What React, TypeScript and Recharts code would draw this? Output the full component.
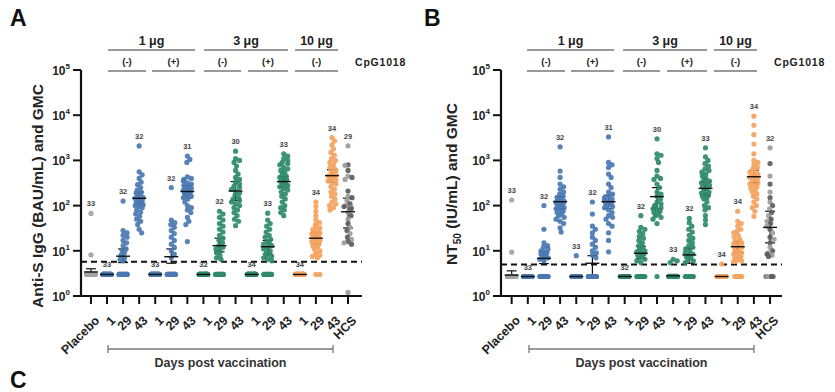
import React from "react";
import { ScatterChart, Scatter, XAxis, YAxis, ReferenceLine, ErrorBar } from "recharts";

const rep = (v: number, n: number) => Array.from({ length: n }, () => v);

// x categories (same for both panels)
const xLabels = ["Placebo", "1", "29", "43", "1", "29", "43", "1", "29", "43", "1", "29", "43", "1", "29", "43", "HCS"];
const groupColors = [
  "#a3a3a3",
  "#4a78b2", "#4a78b2", "#4a78b2", "#4a78b2", "#4a78b2", "#4a78b2",
  "#2e8a68", "#2e8a68", "#2e8a68", "#2e8a68", "#2e8a68", "#2e8a68",
  "#f4a35e", "#f4a35e", "#f4a35e",
  "#858585",
];
const hcsShades = ["#9c9c9c", "#5c5c5c"];

// Panel A: anti-S IgG (BAU/mL)
const aPlacebo = [67, 8.1, ...rep(3, 31)];
const a1nD1 = rep(3, 33);
const a1nD29 = [126, 28, 25, 22, 20, 17, 15, 13, 11, 10, 9, 8, 7, 6.5, 6, ...rep(3, 17)];
const a1nD43 = [2090, 560, 480, 400, 330, 290, 250, 220, 200, 190, 175, 160, 150, 145, 140, 130, 120, 115, 110, 105, 100, 95, 90, 80, 72, 65, 58, 50, 45, 38, 30, 25];
const a1pD1 = rep(3, 33);
const a1pD29 = [250, 48, 42, 38, 33, 28, 24, 20, 17, 14, 12, 10, 8.5, 7, ...rep(3, 18)];
const a1pD43 = [1250, 1050, 900, 430, 400, 380, 350, 320, 300, 280, 260, 250, 240, 220, 210, 200, 190, 180, 170, 160, 150, 140, 120, 100, 90, 80, 70, 55, 45, 38, 16];
const a3nD1 = rep(3, 32);
const a3nD29 = [75, 65, 55, 48, 40, 35, 30, 26, 22, 19, 17, 15, 13, 12, 11, 10, 9, 8, 7, 6.5, ...rep(3, 12)];
const a3nD43 = [1600, 1100, 1000, 900, 750, 600, 500, 420, 380, 330, 300, 270, 250, 230, 210, 190, 170, 150, 140, 130, 120, 110, 100, 90, 80, 70, 60, 50, 45, 36];
const a3pD1 = rep(3, 34);
const a3pD29 = [68, 48, 40, 35, 30, 26, 22, 20, 18, 16, 15, 14, 13, 12, 11, 10, 9, 8.5, 8, 7.5, 7, 6.5, 6, ...rep(3, 10)];
const a3pD43 = [1400, 1250, 1100, 1000, 900, 850, 800, 700, 650, 600, 550, 500, 450, 420, 400, 370, 340, 320, 300, 280, 260, 240, 220, 200, 180, 160, 140, 120, 100, 90, 80, 70, 60];
const a10D1 = rep(3, 34);
const a10D29 = [120, 95, 75, 60, 48, 42, 38, 35, 32, 30, 28, 26, 25, 24, 22, 21, 20, 19, 18, 17, 16, 15, 14, 13, 12, 11, 10, 9, 8.5, 8, 7.5, 7, 3, 3];
const a10D43 = [3200, 2700, 2200, 1800, 1500, 1300, 1100, 1000, 900, 800, 700, 650, 600, 560, 520, 480, 450, 420, 400, 380, 350, 320, 300, 260, 230, 200, 180, 160, 140, 120, 110, 100, 90, 80];
const aHcs = [2100, 800, 780, 600, 450, 420, 380, 210, 160, 150, 130, 110, 100, 95, 90, 85, 70, 60, 50, 40, 33, 28, 24, 20, 18, 16, 15, 14, 1.2];
// GMC with 95% CI: [gmc, low, high]
const aGmc = [
  [3.4, 3.0, 4.0], [3, 3, 3], [7.6, 5.5, 11], [145, 108, 200],
  [3, 3, 3], [7.4, 5.3, 11], [205, 150, 275],
  [3, 3, 3], [13, 9.5, 19], [210, 130, 340],
  [3, 3, 3], [12.3, 8.5, 17], [340, 260, 440],
  [3, 3, 3], [19, 14, 25], [460, 330, 620],
  [73, 32, 146],
];
const aLloq = 5.7;

// Panel B: NT50 (IU/mL)
const bPlacebo = [133, 9.3, ...rep(2.7, 31)];
const b1nD1 = rep(2.7, 33);
const b1nD29 = [100, 30, 15, 13, 12, 11, 10, 9.5, 9, 8.5, 8, 7.5, 7, 6.5, 6, ...rep(2.7, 17)];
const b1nD43 = [2000, 580, 420, 300, 260, 230, 200, 180, 160, 150, 140, 130, 125, 120, 115, 110, 105, 100, 95, 90, 85, 80, 75, 70, 65, 60, 55, 50, 45, 40, 32, 26];
const b1pD1 = [7.8, ...rep(2.7, 32)];
const b1pD29 = [120, 65, 35, 30, 25, 20, 17, 14, 12, 10, 9, 8, 7, ...rep(2.7, 19)];
const b1pD43 = [3300, 900, 800, 700, 500, 420, 300, 250, 200, 180, 160, 150, 140, 130, 125, 120, 115, 110, 100, 95, 90, 80, 70, 60, 55, 50, 40, 35, 25, 17, 9.5];
const b3nD1 = rep(2.7, 32);
const b3nD29 = [60, 33, 30, 27, 24, 21, 19, 17, 15, 13, 12, 11, 10, 9.5, 9, 8.5, 8, 7.5, 7, 6.5, 6, 5.5, ...rep(2.7, 10)];
const b3nD43 = [3000, 1400, 1300, 1100, 900, 600, 450, 400, 380, 300, 250, 200, 180, 160, 140, 120, 110, 100, 95, 90, 85, 80, 75, 70, 65, 60, 55, 50, 40, 2.7];
const b3pD1 = [6.5, 6, 5.5, ...rep(2.7, 30)];
const b3pD29 = [52, 42, 35, 30, 26, 22, 19, 17, 15, 13, 12, 11, 10, 9, 8.5, 8, 7.5, 7, 6.5, 6, 5.5, ...rep(2.7, 11)];
const b3pD43 = [1900, 1200, 1000, 850, 750, 650, 600, 550, 500, 450, 400, 380, 350, 320, 300, 280, 260, 240, 220, 200, 190, 180, 170, 160, 150, 140, 120, 100, 90, 80, 60, 48, 38];
const b10D1 = [5.1, ...rep(2.7, 33)];
const b10D29 = [75, 45, 40, 35, 30, 27, 25, 22, 20, 18, 17, 16, 15, 14, 13, 12, 11, 10, 9.5, 9, 8.5, 8, 7.5, 7, 6.5, 6, 6, 5.8, ...rep(2.7, 6)];
const b10D43 = [9500, 6000, 3700, 2300, 1400, 1000, 900, 800, 700, 650, 600, 550, 500, 480, 450, 420, 400, 380, 350, 320, 300, 280, 260, 240, 220, 200, 180, 160, 140, 120, 100, 90, 75, 58];
const bHcs = [1900, 850, 450, 300, 200, 150, 120, 100, 85, 70, 60, 50, 45, 40, 35, 30, 25, 20, 18, 15, 12, 10, 9, 8.5, 8, 7.5, ...rep(2.7, 6)];
const bGmc = [
  [2.9, 2.6, 3.6], [2.7, 2.7, 2.7], [6.8, 5.2, 9.5], [122, 85, 160],
  [2.7, 2.7, 2.7], [5.3, 2.9, 7.8], [122, 85, 170],
  [2.7, 2.7, 2.7], [8.8, 6.7, 12.5], [158, 85, 250],
  [2.8, 2.7, 3.0], [8.1, 5.3, 11.5], [240, 170, 330],
  [2.7, 2.7, 2.7], [12.3, 9.3, 16], [435, 320, 600],
  [33, 15, 75],
];
const bLloq = 5.0;

const aGroups = [aPlacebo, a1nD1, a1nD29, a1nD43, a1pD1, a1pD29, a1pD43, a3nD1, a3nD29, a3nD43, a3pD1, a3pD29, a3pD43, a10D1, a10D29, a10D43, aHcs];
const bGroups = [bPlacebo, b1nD1, b1nD29, b1nD43, b1pD1, b1pD29, b1pD43, b3nD1, b3nD29, b3nD43, b3pD1, b3pD29, b3pD43, b10D1, b10D29, b10D43, bHcs];

const PX_DECADE = 45.2;
const PX_UNIT = 16.1;
const R = 2.6;
const FONT = "'Liberation Sans', Arial, sans-serif";

// beeswarm offsets (x units) so dots don't pile on each other
function swarm(values: number[]) {
  const py = values.map((v) => -PX_DECADE * Math.log10(v));
  const order = values.map((_, i) => i).sort((a, b) => py[a] - py[b]);
  const placed: { x: number; y: number }[] = [];
  const offs = new Array(values.length).fill(0);
  const d = R * 1.6;
  const cyc = [0, 3, -3, 1.5, -1.5, 4, -4];
  order.forEach((i, k) => {
    let best: number | null = null;
    for (let s = 0; s <= 4 && best === null; s += 0.5) {
      for (const o of s === 0 ? [0] : [s, -s]) {
        if (placed.every((q) => (q.x - o) ** 2 + (q.y - py[i]) ** 2 >= d * d)) {
          best = o;
          break;
        }
      }
    }
    if (best === null) best = cyc[k % cyc.length];
    placed.push({ x: best, y: py[i] });
    offs[i] = best;
  });
  return offs.map((o) => o / PX_UNIT);
}

const XTick = ({ x, y, payload }: any) => (
  <text
    x={x + 3}
    y={y + 9}
    transform={`rotate(-45 ${x + 3} ${y + 9})`}
    textAnchor="end"
    dominantBaseline="hanging"
    fontSize={12.5}
    fontWeight="bold"
    fill="#222"
    fontFamily={FONT}
  >
    {xLabels[payload.value]}
  </text>
);

const YTick = ({ x, y, payload }: any) => (
  <text x={x - 1} y={y + 5} textAnchor="end" fontSize={12} fontWeight="bold" fill="#222" fontFamily={FONT}>
    10
    <tspan dy={-6} fontSize={8}>
      {Math.round(Math.log10(payload.value))}
    </tspan>
  </text>
);

function Panel({ groups, gmc, lloq, domain, marginLeft, width }: any) {
  const dots = groups.map((vals: number[], i: number) => {
    const offs = swarm(vals);
    return vals.map((v, j) => ({ x: i + offs[j], y: v, k: j }));
  });
  const gmcData = gmc.map((g: number[], i: number) => ({ x: i, y: g[0], err: [g[0] - g[1], g[2] - g[0]] }));
  const nData = groups.map((vals: number[], i: number) => ({ x: i, y: Math.max(...vals), n: vals.length }));
  const last = groups.length - 1;

  return (
    <ScatterChart width={width} height={392} margin={{ top: 70, right: 53, bottom: 36, left: marginLeft }}>
      <XAxis
        type="number"
        dataKey="x"
        domain={domain}
        ticks={xLabels.map((_, i) => i)}
        interval={0}
        tick={<XTick />}
        tickSize={8}
        tickLine={{ stroke: "#111", strokeWidth: 2 }}
        axisLine={{ stroke: "#111", strokeWidth: 2.2 }}
        height={60}
        allowDataOverflow
      />
      <YAxis
        type="number"
        dataKey="y"
        scale="log"
        domain={[1, 100000]}
        ticks={[1, 10, 100, 1000, 10000, 100000]}
        tick={<YTick />}
        tickSize={8}
        tickLine={{ stroke: "#111", strokeWidth: 2 }}
        axisLine={{ stroke: "#111", strokeWidth: 2.2 }}
        width={40}
        allowDataOverflow
      />
      <ReferenceLine y={lloq} stroke="#111" strokeWidth={2} strokeDasharray="6 4" />
      {dots.map((pts: any[], i: number) => (
        <Scatter
          key={i}
          data={pts}
          isAnimationActive={false}
          shape={(p: any) => (
            <circle
              cx={p.cx}
              cy={p.cy}
              r={R}
              fill={i === last ? hcsShades[p.payload.k % 2] : groupColors[i]}
              fillOpacity={0.92}
            />
          )}
        />
      ))}
      <Scatter
        data={gmcData}
        isAnimationActive={false}
        shape={(p: any) => <line x1={p.cx - 7} x2={p.cx + 7} y1={p.cy} y2={p.cy} stroke="#111" strokeWidth={1.4} />}
      >
        <ErrorBar dataKey="err" direction="y" width={5} stroke="#111" strokeWidth={1.2} />
      </Scatter>
      <Scatter
        data={nData}
        isAnimationActive={false}
        shape={(p: any) => (
          <text x={p.cx} y={p.cy - 7} textAnchor="middle" fontSize={7.5} fontWeight="bold" fill="#444" fontFamily={FONT}>
            {p.payload.n}
          </text>
        )}
      />
    </ScatterChart>
  );
}

function Headers({ x0 }: { x0: number }) {
  const row1 = [[0, 87, "1 μg"], [96, 180, "3 μg"], [187, 230, "10 μg"]];
  const row2 = [[0, 38, "(-)"], [44, 87, "(+)"], [96, 133, "(-)"], [140, 180, "(+)"], [187, 230, "(-)"]];
  return (
    <g fontFamily={FONT} fill="#222">
      {row1.map(([a, b, t]: any, i) => (
        <g key={i}>
          <line x1={x0 + a} x2={x0 + b} y1={50} y2={50} stroke="#777" strokeWidth={1.5} />
          <text x={x0 + (a + b) / 2} y={45} textAnchor="middle" fontSize={12.5} fontWeight="bold">{t}</text>
        </g>
      ))}
      {row2.map(([a, b, t]: any, i) => (
        <g key={i}>
          <line x1={x0 + a} x2={x0 + b} y1={71} y2={71} stroke="#777" strokeWidth={1.5} />
          <text x={x0 + (a + b) / 2} y={65} textAnchor="middle" fontSize={9.5} fontWeight="bold">{t}</text>
        </g>
      ))}
      <text x={x0 + 247} y={66} fontSize={10.5} fontWeight="bold" letterSpacing={0.8}>CpG1018</text>
    </g>
  );
}

export default function App() {
  return (
    <div style={{ position: "absolute", left: 0, top: 0, width: 835, height: 392, background: "#fff", fontFamily: FONT }}>
      <div style={{ position: "absolute", left: 0, top: 0 }}>
        <Panel groups={aGroups} gmc={aGmc} lloq={aLloq} domain={[-0.62, 16.87]} marginLeft={41} width={415} />
      </div>
      <div style={{ position: "absolute", left: 415, top: 0 }}>
        <Panel groups={bGroups} gmc={bGmc} lloq={bLloq} domain={[-0.66, 16.74]} marginLeft={46} width={420} />
      </div>
      <svg width={835} height={392} style={{ position: "absolute", left: 0, top: 0, pointerEvents: "none" }} fontFamily={FONT}>
        <text x={10} y={26} fontSize={23} fontWeight="bold" fill="#111">A</text>
        <text x={424} y={26} fontSize={23} fontWeight="bold" fill="#111">B</text>
        <text x={10} y={388} fontSize={23} fontWeight="bold" fill="#111">C</text>
        <Headers x0={108} />
        <Headers x0={527} />
        <text transform="translate(43 196) rotate(-90)" textAnchor="middle" fontSize={15.5} fontWeight="bold" fill="#222">
          Anti-S IgG (BAU/mL) and GMC
        </text>
        <text transform="translate(457 184) rotate(-90)" textAnchor="middle" fontSize={15.5} fontWeight="bold" fill="#222">
          NT<tspan dy={4} fontSize={10}>50</tspan><tspan dy={-4}> (IU/mL) and GMC</tspan>
        </text>
        {[[108, 333], [529, 754]].map(([a, b], i) => (
          <g key={i}>
            <line x1={a} x2={b} y1={349} y2={349} stroke="#777" strokeWidth={1.3} />
            <line x1={a} x2={a} y1={345} y2={353} stroke="#777" strokeWidth={1.3} />
            <line x1={b} x2={b} y1={345} y2={353} stroke="#777" strokeWidth={1.3} />
            <text x={(a + b) / 2} y={367} textAnchor="middle" fontSize={12.5} fontWeight="bold" fill="#333">
              Days post vaccination
            </text>
          </g>
        ))}
      </svg>
    </div>
  );
}
